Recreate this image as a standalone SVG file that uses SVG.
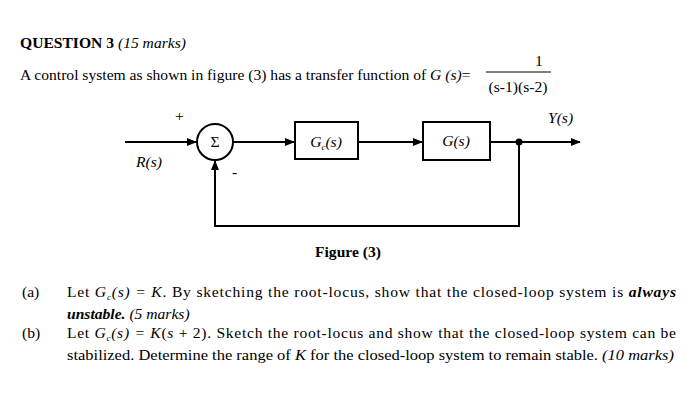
<svg xmlns="http://www.w3.org/2000/svg" width="700" height="412" viewBox="0 0 700 412">
<defs><marker id="ah" markerWidth="10" markerHeight="8" refX="9" refY="4" orient="auto" markerUnits="userSpaceOnUse"><path d="M0,0 L10,4 L0,8 z" fill="#000"/></marker></defs>
<style>text{font-family:"Liberation Serif",serif;font-size:15.6px;fill:#000}.i{font-style:italic}.b{font-weight:bold}.ln{stroke:#000;stroke-width:2;fill:none}</style>
<rect width="700" height="412" fill="#fff"/>
<text x="20" y="48"><tspan class="b">QUESTION 3</tspan> <tspan class="i">(15 marks)</tspan></text>
<text x="20" y="80">A control system as shown in figure (3) has a transfer function of <tspan class="i">G (s)</tspan>=</text>
<text x="539" y="66" font-size="13" text-anchor="middle">1</text>
<line x1="486" y1="72" x2="551" y2="72" stroke="#000"/>
<text x="518" y="92" font-size="14" text-anchor="middle">(s-1)(s-2)</text>
<g id="connectors">
<line class="ln" x1="125" y1="142" x2="196" y2="142" marker-end="url(#ah)"/>
<line class="ln" x1="233" y1="142" x2="294" y2="142" marker-end="url(#ah)"/>
<line class="ln" x1="359" y1="142" x2="422" y2="142" marker-end="url(#ah)"/>
<line class="ln" x1="491" y1="142" x2="580" y2="142" marker-end="url(#ah)"/>
<polyline class="ln" points="519,142 519,226 215,226 215,161" marker-end="url(#ah)"/>
<circle cx="519" cy="142" r="3.5" fill="#000"/>
</g>
<g id="sum"><circle class="ln" cx="215" cy="142" r="18"/><text x="215" y="147" font-size="13" text-anchor="middle">Σ</text></g>
<g id="gc"><rect class="ln" x="295" y="122" width="63" height="37"/><text x="326" y="147" class="i" font-size="15" text-anchor="middle">G<tspan font-size="9" dy="3">c</tspan><tspan dy="-3">(s)</tspan></text></g>
<g id="g"><rect class="ln" x="423" y="122" width="67" height="38"/><text x="456" y="146" class="i" font-size="15" text-anchor="middle">G(s)</text></g>
<text x="175" y="121" font-size="11">+</text>
<text x="232" y="177" font-size="13">-</text>
<text x="136" y="167" class="i" font-size="13">R(s)</text>
<text x="548" y="123" class="i" font-size="13">Y(s)</text>
<text x="348" y="257" class="b" text-anchor="middle">Figure (3)</text>
<text x="22" y="297">(a)</text>
<text x="67" y="297" textLength="609" lengthAdjust="spacing">Let <tspan class="i">G<tspan font-size="9" dy="3">c</tspan><tspan dy="-3">(s)</tspan> = K</tspan>. By sketching the root-locus, show that the closed-loop system is <tspan class="i b">always</tspan></text>
<text x="67" y="319"><tspan class="i b">unstable.</tspan> <tspan class="i">(5 marks)</tspan></text>
<text x="22" y="338">(b)</text>
<text x="67" y="338" textLength="609" lengthAdjust="spacing">Let <tspan class="i">G<tspan font-size="9" dy="3">c</tspan><tspan dy="-3">(s)</tspan> = K</tspan>(<tspan class="i">s</tspan> + 2). Sketch the root-locus and show that the closed-loop system can be</text>
<text x="67" y="360" textLength="607" lengthAdjust="spacingAndGlyphs">stabilized. Determine the range of <tspan class="i">K</tspan> for the closed-loop system to remain stable. <tspan class="i">(10 marks)</tspan></text>
</svg>
